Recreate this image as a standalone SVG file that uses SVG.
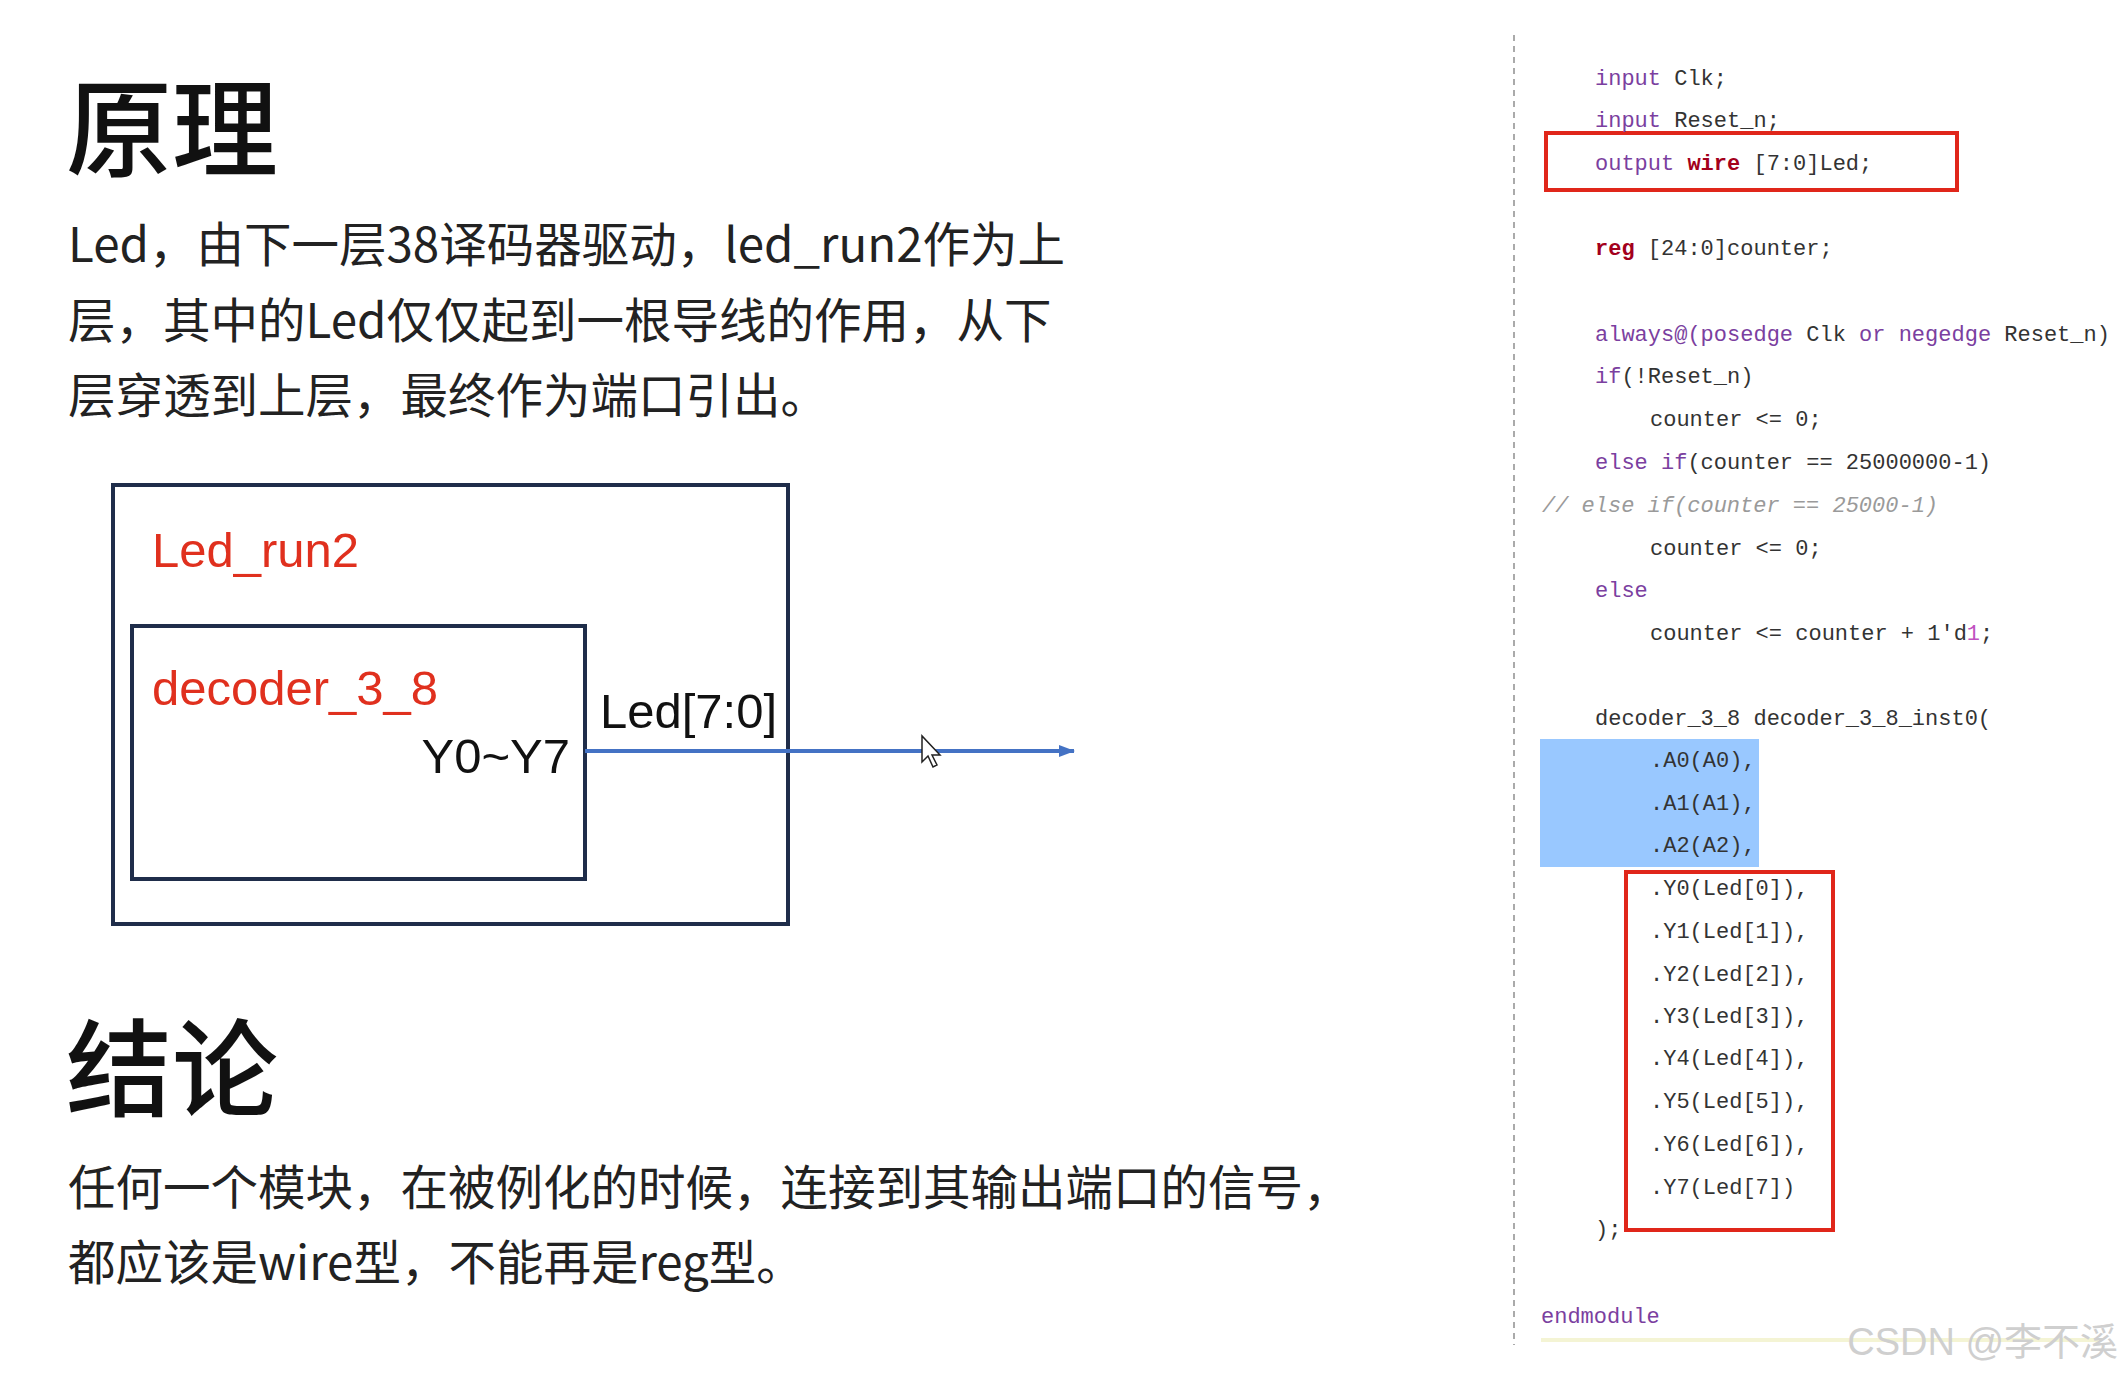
<svg xmlns="http://www.w3.org/2000/svg" width="2127" height="1377" viewBox="0 0 2127 1377">
<style>
.h{font-family:"Noto Sans CJK SC","Liberation Sans",sans-serif;font-size:106px;fill:#111;font-weight:500}
.p{font-family:"Noto Sans CJK SC","Liberation Sans",sans-serif;font-size:47.5px;fill:#222}
.lbl{font-family:"Liberation Sans","Noto Sans",sans-serif;font-size:49px}
.c{font-family:"Liberation Mono","Noto Sans CJK SC",monospace;font-size:22px;fill:#333}
.k{fill:#7b3fa0}
.b{fill:#a3001c;font-weight:bold}
.cm{fill:#9a9a9a;font-style:italic}
.box{fill:none;stroke:#1f2d4a;stroke-width:4}
.red{fill:none;stroke:#e0261a;stroke-width:4}
</style>
<defs><marker id="ar" markerWidth="16" markerHeight="12" refX="15" refY="6" orient="auto" markerUnits="userSpaceOnUse"><path d="M0,0 L16,6 L0,12 z" fill="#4472c4"/></marker></defs>
<rect width="2127" height="1377" fill="#fff"/>
<text class="h" x="66" y="168">原理</text>
<text class="p" x="68" y="262">Led，由下一层38译码器驱动，led_run2作为上</text>
<text class="p" x="68" y="338">层，其中的Led仅仅起到一根导线的作用，从下</text>
<text class="p" x="68" y="413">层穿透到上层，最终作为端口引出。</text>
<g id="led_run2"><rect class="box" x="113" y="485" width="675" height="439"/><text class="lbl" x="152" y="567" fill="#e0301e">Led_run2</text></g>
<g id="decoder_3_8"><rect class="box" x="132" y="626" width="453" height="253"/><text class="lbl" x="152" y="705" fill="#e0301e">decoder_3_8</text><text class="lbl" x="570" y="773" fill="#111" text-anchor="end">Y0~Y7</text></g>
<g id="connectors"><line x1="585" y1="751" x2="1074" y2="751" stroke="#4472c4" stroke-width="4" marker-end="url(#ar)"/><text class="lbl" x="600" y="728" fill="#111">Led[7:0]</text></g>
<path d="M922,736 L922,762 L928,756 L933,767 L937,765 L932,755 L940,755 Z" fill="#fff" stroke="#222" stroke-width="1.5"/>
<text class="h" x="66" y="1108">结论</text>
<text class="p" x="68" y="1205">任何一个模块，在被例化的时候，连接到其输出端口的信号，</text>
<text class="p" x="68" y="1280">都应该是wire型，不能再是reg型。</text>
<line x1="1514" y1="35" x2="1514" y2="1345" stroke="#aaa" stroke-width="2" stroke-dasharray="6,5"/>
<rect x="1540" y="739" width="219" height="128" fill="#99c8ff"/>
<rect class="red" x="1546" y="133" width="411" height="57"/>
<rect class="red" x="1626" y="872" width="207" height="358"/>
<g class="c">
<text x="1595" y="85"><tspan class="k">input</tspan> Clk;</text>
<text x="1595" y="127"><tspan class="k">input</tspan> Reset_n;</text>
<text x="1595" y="170"><tspan class="k">output</tspan> <tspan class="b">wire</tspan> [7:0]Led;</text>
<text x="1595" y="255"><tspan class="b">reg</tspan> [24:0]counter;</text>
<text x="1595" y="341"><tspan class="k">always@(posedge</tspan> Clk <tspan class="k">or negedge</tspan> Reset_n)</text>
<text x="1595" y="383"><tspan class="k">if</tspan>(!Reset_n)</text>
<text x="1650" y="426">counter &lt;= 0;</text>
<text x="1595" y="469"><tspan class="k">else if</tspan>(counter == 25000000-1)</text>
<text x="1542" y="512" class="cm">//  else if(counter == 25000-1)</text>
<text x="1650" y="555">counter &lt;= 0;</text>
<text x="1595" y="597" class="k">else</text>
<text x="1650" y="640">counter &lt;= counter + 1'd<tspan fill="#c050c0">1</tspan>;</text>
<text x="1595" y="725">decoder_3_8 decoder_3_8_inst0(</text>
<text x="1650" y="767">.A0(A0),</text>
<text x="1650" y="810">.A1(A1),</text>
<text x="1650" y="852">.A2(A2),</text>
<text x="1650" y="895">.Y0(Led[0]),</text>
<text x="1650" y="938">.Y1(Led[1]),</text>
<text x="1650" y="981">.Y2(Led[2]),</text>
<text x="1650" y="1023">.Y3(Led[3]),</text>
<text x="1650" y="1065">.Y4(Led[4]),</text>
<text x="1650" y="1108">.Y5(Led[5]),</text>
<text x="1650" y="1151">.Y6(Led[6]),</text>
<text x="1650" y="1194">.Y7(Led[7])</text>
<text x="1595" y="1236">);</text>
<text x="1541" y="1323" class="k">endmodule</text>
</g>
<line x1="1541" y1="1340" x2="2100" y2="1340" stroke="#f4f4d4" stroke-width="4"/>
<text x="2118" y="1355" text-anchor="end" font-family="Liberation Sans,Noto Sans CJK SC,sans-serif" font-size="38" fill="#cfcfcf">CSDN @李不溪</text>
</svg>
